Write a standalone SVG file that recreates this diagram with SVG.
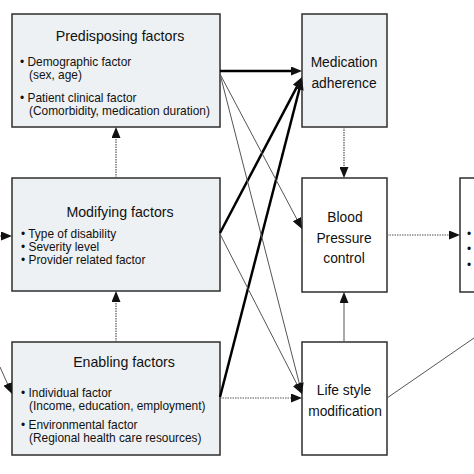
<svg xmlns="http://www.w3.org/2000/svg" width="474" height="474" viewBox="0 0 474 474">
<defs>
<style>
.box{stroke:#2e2e2e;stroke-width:1.5}
.grey{fill:#eef1f3}
.white{fill:#fff}
text{font-family:"Liberation Sans",Arial,sans-serif;fill:#111}
.title{font-size:14.2px;text-anchor:middle}
.item{font-size:11.9px}
.mid{font-size:13.8px;text-anchor:middle}
.thick{stroke:#000;stroke-width:2.5;fill:none}
.thin{stroke:#555;stroke-width:1;fill:none}
.dot{stroke:#555;stroke-width:1.2;stroke-dasharray:1.5 1;fill:none}
</style>
<marker id="arr" viewBox="0 0 11 9" refX="4.5" refY="4.5" markerWidth="11" markerHeight="9" markerUnits="userSpaceOnUse" orient="auto">
<path d="M0,0 L11,4.5 L0,9 z" fill="#111"/>
</marker>
</defs>
<rect width="474" height="474" fill="#fff"/>

<g id="predisposing">
<rect class="box grey" x="12" y="14" width="208" height="113"/>
<text class="title" x="120" y="41">Predisposing factors</text>
<text class="item" x="20" y="66">• Demographic factor</text>
<text class="item" x="29" y="79">(sex, age)</text>
<text class="item" x="20" y="102">• Patient clinical factor</text>
<text class="item" x="29" y="115">(Comorbidity, medication duration)</text>
</g>

<g id="modifying">
<rect class="box grey" x="12" y="178" width="208" height="113"/>
<text class="title" x="120" y="217">Modifying factors</text>
<text class="item" x="21" y="238">• Type of disability</text>
<text class="item" x="21" y="251">• Severity level</text>
<text class="item" x="21" y="264">• Provider related factor</text>
</g>

<g id="enabling">
<rect class="box grey" x="12" y="342" width="208" height="113"/>
<text class="title" x="124" y="367">Enabling factors</text>
<text class="item" x="21" y="397">• Individual factor</text>
<text class="item" x="29" y="410">(Income, education, employment)</text>
<text class="item" x="21" y="429">• Environmental factor</text>
<text class="item" x="29" y="442">(Regional health care resources)</text>
</g>

<g id="medication">
<rect class="box grey" x="302" y="14" width="85" height="113"/>
<text class="mid" x="344" y="67">Medication</text>
<text class="mid" x="344" y="88">adherence</text>
</g>

<g id="bp">
<rect class="box white" x="302" y="178" width="85" height="114"/>
<text class="mid" x="345" y="222">Blood</text>
<text class="mid" x="344" y="243">Pressure</text>
<text class="mid" x="344" y="263">control</text>
</g>

<g id="lifestyle">
<rect class="box white" x="302" y="342" width="85" height="113"/>
<text class="mid" x="344" y="395">Life style</text>
<text class="mid" x="345" y="416">modification</text>
</g>

<g id="outcome">
<rect class="box white" x="460" y="178" width="30" height="114"/>
<text class="item" x="467" y="238">•</text>
<text class="item" x="467" y="253">•</text>
<text class="item" x="467" y="269">•</text>
</g>

<g id="connectors">
<line class="dot" x1="116" y1="178" x2="116" y2="133.5" marker-end="url(#arr)"/>
<line class="dot" x1="116" y1="342" x2="116" y2="297.5" marker-end="url(#arr)"/>
<line class="dot" x1="344" y1="127" x2="344" y2="171.5" marker-end="url(#arr)"/>
<line class="thin" x1="344" y1="342" x2="344" y2="298.5" marker-end="url(#arr)"/>
<line class="dot" x1="387" y1="235" x2="453.5" y2="235" marker-end="url(#arr)"/>
<line class="thin" x1="0" y1="236" x2="5.5" y2="236" marker-end="url(#arr)"/>
<line class="thin" x1="0" y1="367" x2="9.4" y2="388" marker-end="url(#arr)"/>
<line class="thin" x1="387" y1="398" x2="474" y2="338"/>

<line class="thick" x1="220" y1="71" x2="295.5" y2="71" marker-end="url(#arr)"/>
<line class="thick" x1="220" y1="233" x2="299" y2="82.8" marker-end="url(#arr)"/>
<line class="thick" x1="220" y1="397" x2="300.4" y2="85.3" marker-end="url(#arr)"/>

<line class="thin" x1="220" y1="74" x2="299" y2="223.2" marker-end="url(#arr)"/>
<line class="thin" x1="220" y1="74" x2="300.4" y2="387.7" marker-end="url(#arr)"/>
<line class="thin" x1="220" y1="234" x2="299" y2="388.2" marker-end="url(#arr)"/>
<line class="dot" x1="220" y1="398" x2="295.5" y2="398" marker-end="url(#arr)"/>
</g>
</svg>
